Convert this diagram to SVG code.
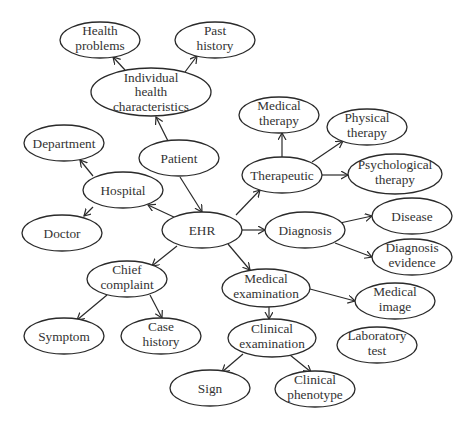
<svg xmlns="http://www.w3.org/2000/svg" width="474" height="430" viewBox="0 0 474 430">
<defs>
<style>
.n ellipse{fill:#fff;stroke:#2a2a2a;stroke-width:1.3}
.n text{font-family:"Liberation Serif","Times New Roman",serif;font-size:13.3px;fill:#333;text-anchor:middle}
.c line{stroke:#2a2a2a;stroke-width:1.2;marker-end:url(#a)}
</style>
<marker id="a" markerUnits="userSpaceOnUse" markerWidth="10" markerHeight="10" refX="7" refY="4" orient="auto">
<path d="M0,0 L7,4 L0,8" fill="none" stroke="#2a2a2a" stroke-width="1.2"/>
</marker>
</defs>
<rect width="474" height="430" fill="#fff"/>
<g class="c" id="connectors">
<line x1="125" y1="70" x2="113" y2="57"/>
<line x1="185" y1="72" x2="197" y2="56"/>
<line x1="168" y1="141" x2="156" y2="117"/>
<line x1="180" y1="177" x2="202" y2="212"/>
<line x1="176" y1="218" x2="148" y2="205"/>
<line x1="93" y1="176" x2="80" y2="160"/>
<line x1="93" y1="207" x2="84" y2="216"/>
<line x1="177" y1="246" x2="152" y2="266"/>
<line x1="107" y1="295" x2="77" y2="320"/>
<line x1="150" y1="295" x2="162" y2="318"/>
<line x1="236" y1="215" x2="260" y2="190"/>
<line x1="282" y1="157" x2="282" y2="133"/>
<line x1="312" y1="162" x2="343" y2="141"/>
<line x1="322" y1="175" x2="348" y2="175"/>
<line x1="242" y1="230" x2="265" y2="230"/>
<line x1="340" y1="223" x2="372" y2="216"/>
<line x1="335" y1="243" x2="372" y2="257"/>
<line x1="228" y1="244" x2="250" y2="270"/>
<line x1="310" y1="289" x2="355" y2="301"/>
<line x1="269" y1="307" x2="269" y2="319"/>
<line x1="243" y1="354" x2="222" y2="372"/>
<line x1="290" y1="355" x2="311" y2="372"/>
</g>
<g class="n" id="health_problems"><ellipse cx="100" cy="40" rx="40" ry="18"/><text x="100" y="35">Health<tspan x="100" dy="14.8">problems</tspan></text></g>
<g class="n" id="past_history"><ellipse cx="215" cy="40" rx="40" ry="18"/><text x="215" y="35">Past<tspan x="215" dy="14.8">history</tspan></text></g>
<g class="n" id="individual"><ellipse cx="151" cy="92" rx="60" ry="24"/><text x="151" y="81.5">Individual<tspan x="151" dy="14.8">health</tspan><tspan x="151" dy="14.8">characteristics</tspan></text></g>
<g class="n" id="department"><ellipse cx="64" cy="143" rx="40" ry="18"/><text x="64" y="147.5">Department</text></g>
<g class="n" id="patient"><ellipse cx="179" cy="158" rx="40" ry="18"/><text x="179" y="162.5">Patient</text></g>
<g class="n" id="hospital"><ellipse cx="123" cy="190" rx="40" ry="18"/><text x="123" y="194.5">Hospital</text></g>
<g class="n" id="medical_therapy"><ellipse cx="279" cy="115" rx="40" ry="18"/><text x="279" y="110">Medical<tspan x="279" dy="14.8">therapy</tspan></text></g>
<g class="n" id="physical_therapy"><ellipse cx="367" cy="127" rx="40" ry="18"/><text x="367" y="122">Physical<tspan x="367" dy="14.8">therapy</tspan></text></g>
<g class="n" id="therapeutic"><ellipse cx="282" cy="175" rx="40" ry="18"/><text x="282" y="179.5">Therapeutic</text></g>
<g class="n" id="psychological_therapy"><ellipse cx="395" cy="174" rx="47" ry="20"/><text x="395" y="169">Psychological<tspan x="395" dy="14.8">therapy</tspan></text></g>
<g class="n" id="ehr"><ellipse cx="202" cy="230" rx="40" ry="18"/><text x="202" y="234.5">EHR</text></g>
<g class="n" id="doctor"><ellipse cx="62" cy="233" rx="40" ry="18"/><text x="62" y="237.5">Doctor</text></g>
<g class="n" id="diagnosis"><ellipse cx="305" cy="230" rx="40" ry="18"/><text x="305" y="234.5">Diagnosis</text></g>
<g class="n" id="disease"><ellipse cx="412" cy="216" rx="40" ry="18"/><text x="412" y="220.5">Disease</text></g>
<g class="n" id="diagnosis_evidence"><ellipse cx="412" cy="257" rx="40" ry="18"/><text x="412" y="252">Diagnosis<tspan x="412" dy="14.8">evidence</tspan></text></g>
<g class="n" id="chief_complaint"><ellipse cx="127" cy="279" rx="40" ry="18"/><text x="127" y="274">Chief<tspan x="127" dy="14.8">complaint</tspan></text></g>
<g class="n" id="medical_examination"><ellipse cx="266" cy="288" rx="44" ry="19"/><text x="266" y="283">Medical<tspan x="266" dy="14.8">examination</tspan></text></g>
<g class="n" id="medical_image"><ellipse cx="395" cy="301" rx="40" ry="18"/><text x="395" y="296">Medical<tspan x="395" dy="14.8">image</tspan></text></g>
<g class="n" id="symptom"><ellipse cx="64" cy="336" rx="40" ry="18"/><text x="64" y="340.5">Symptom</text></g>
<g class="n" id="case_history"><ellipse cx="161" cy="336" rx="40" ry="18"/><text x="161" y="331">Case<tspan x="161" dy="14.8">history</tspan></text></g>
<g class="n" id="clinical_examination"><ellipse cx="272" cy="338" rx="44" ry="19"/><text x="272" y="333">Clinical<tspan x="272" dy="14.8">examination</tspan></text></g>
<g class="n" id="laboratory_test"><ellipse cx="377" cy="345" rx="40" ry="18"/><text x="377" y="340">Laboratory<tspan x="377" dy="14.8">test</tspan></text></g>
<g class="n" id="sign"><ellipse cx="210" cy="388" rx="40" ry="18"/><text x="210" y="392.5">Sign</text></g>
<g class="n" id="clinical_phenotype"><ellipse cx="315" cy="389" rx="40" ry="18"/><text x="315" y="384">Clinical<tspan x="315" dy="14.8">phenotype</tspan></text></g>
</svg>
